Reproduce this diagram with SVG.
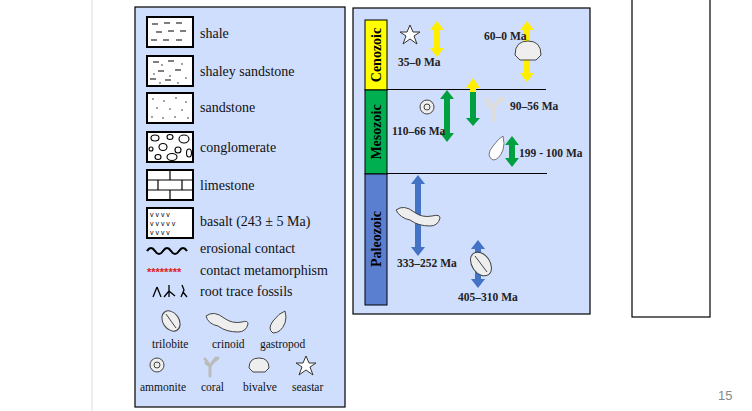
<svg xmlns="http://www.w3.org/2000/svg" width="752" height="411" viewBox="0 0 752 411">
<style>
.t{font-family:"Liberation Serif",serif;font-size:14px;fill:#111}
.s{font-family:"Liberation Serif",serif;font-size:11.5px;fill:#111}
.m{font-family:"Liberation Serif",serif;font-size:11.5px;font-weight:bold;fill:#222}
.box{fill:#fff;stroke:#000;stroke-width:2}
.era{font-family:"Liberation Serif",serif;font-size:14px;font-weight:bold;fill:#000}
.fos{fill:#eee;stroke:#444;stroke-width:1}
</style>
<rect width="752" height="411" fill="#fff"/>
<line x1="92" y1="0" x2="92" y2="411" stroke="#ddd"/>
<g id="empty-box"><rect x="632" y="-2" width="78" height="319" fill="#fff" stroke="#000" stroke-width="1.2"/></g>
<text x="718" y="400" font-family="Liberation Sans,sans-serif" font-size="13" fill="#888">15</text>
<g id="legend">
<rect x="135" y="7" width="210" height="400" fill="#cfdefd" stroke="#000" stroke-width="1.2"/>
<g id="shale"><rect class="box" x="147" y="17" width="46" height="30"/>
<path d="M152 24h6M164 23h6M176 23h6M156 32h6M168 31h6M180 31h6M151 40h6M163 40h6M176 40h6" stroke="#000" stroke-width="1.2"/>
<text class="t" x="200" y="38">shale</text></g>
<g id="shaley"><rect class="box" x="147" y="56" width="46" height="30"/>
<path d="M153 62h6M168 61h6M158 71h6M175 70h6M150 79h6M165 80h6" stroke="#000" stroke-width="1.2"/>
<g fill="#000"><circle cx="162" cy="65" r=".7"/><circle cx="182" cy="64" r=".7"/><circle cx="154" cy="74" r=".7"/><circle cx="170" cy="76" r=".7"/><circle cx="186" cy="78" r=".7"/><circle cx="160" cy="83" r=".7"/><circle cx="178" cy="83" r=".7"/></g>
<text class="t" x="200" y="76">shaley sandstone</text></g>
<g id="sandstone"><rect class="box" x="147" y="93" width="46" height="30"/>
<g fill="#000"><circle cx="153" cy="99" r=".7"/><circle cx="164" cy="101" r=".7"/><circle cx="176" cy="98" r=".7"/><circle cx="186" cy="102" r=".7"/><circle cx="157" cy="108" r=".7"/><circle cx="170" cy="109" r=".7"/><circle cx="182" cy="110" r=".7"/><circle cx="152" cy="117" r=".7"/><circle cx="163" cy="118" r=".7"/><circle cx="175" cy="117" r=".7"/><circle cx="188" cy="118" r=".7"/></g>
<text class="t" x="200" y="112">sandstone</text></g>
<g id="conglomerate"><rect class="box" x="147" y="132" width="46" height="30"/>
<g fill="none" stroke="#000" stroke-width="1.1"><ellipse cx="155" cy="138" rx="4" ry="3"/><ellipse cx="170" cy="137" rx="3" ry="2.5"/><ellipse cx="184" cy="139" rx="5" ry="4"/><ellipse cx="163" cy="147" rx="4" ry="3.5"/><ellipse cx="178" cy="150" rx="3" ry="3"/><ellipse cx="189" cy="153" rx="2.5" ry="4"/><ellipse cx="158" cy="157" rx="3" ry="2.5"/><ellipse cx="172" cy="157" rx="5" ry="3.5"/><ellipse cx="151" cy="149" rx="2" ry="2"/></g>
<text class="t" x="200" y="152">conglomerate</text></g>
<g id="limestone"><rect class="box" x="147" y="170" width="46" height="30"/>
<path d="M147 180h46M147 190h46M170 170v10M158 180v10M182 180v10M170 190v10" stroke="#000" stroke-width="1.2"/>
<text class="t" x="200" y="190">limestone</text></g>
<g id="basalt"><rect class="box" x="147" y="208" width="46" height="30"/>
<text x="150" y="217" font-family="Liberation Sans,sans-serif" font-size="7" fill="#000">v  v  v  v</text>
<text x="150" y="226" font-family="Liberation Sans,sans-serif" font-size="7" fill="#000">v  v  v  v  v</text>
<text x="150" y="235" font-family="Liberation Sans,sans-serif" font-size="7" fill="#000">v  v  v  v</text>
<text class="t" x="200" y="226">basalt (243 ± 5 Ma)</text></g>
<g id="erosional"><path d="M147 251q4-6 8 0t8 0t8 0t8 0t8 0" fill="none" stroke="#000" stroke-width="2.2"/>
<text class="t" x="200" y="253">erosional contact</text></g>
<g id="metamorphism"><text x="147" y="276" font-family="Liberation Sans,sans-serif" font-size="11" font-weight="bold" fill="#e02020">********</text>
<text class="t" x="200" y="275">contact metamorphism</text></g>
<g id="roots"><path d="M157 287l-4 10M157 287l4 10M169 285v6l-5 6M169 291l6 5M169 291v6M182 285l2 5l-3 7M183 292l4 5" fill="none" stroke="#000" stroke-width="1.3"/>
<text class="t" x="200" y="296">root trace fossils</text></g>
<g id="fossils">
<ellipse class="fos" cx="171" cy="321" rx="8" ry="11" transform="rotate(-35 171 321)"/><path d="M166 314l10 14" stroke="#444"/>
<path class="fos" d="M206 316q8-6 18 2q8 6 18 4q6-2 6 2q-2 8-10 8q-12 0-20-6q-10-2-12-10z"/>
<path class="fos" d="M273 333q-6-4 0-12q6-8 12-10q2 6 0 12q-4 10-12 10z"/>
<text class="s" x="152" y="348">trilobite</text><text class="s" x="212" y="348">crinoid</text><text class="s" x="260" y="348">gastropod</text>
<circle class="fos" cx="157" cy="365" r="7"/><circle cx="157" cy="365" r="3" fill="none" stroke="#444"/>
<path d="M210 376v-10l-5-7M210 366l6-8M213 362l5-4M210 366l-4-3" fill="none" stroke="#bbb" stroke-width="3" stroke-linecap="round"/>
<path class="fos" d="M249 368q0-10 10-10q10 0 10 10l-4 4h-12z"/>
<path d="M306 356l3 7h7l-6 4l3 8l-7-5l-7 5l3-8l-6-4h7z" fill="#fff" stroke="#333"/>
<text class="s" x="140" y="391">ammonite</text><text class="s" x="201" y="391">coral</text><text class="s" x="243" y="391">bivalve</text><text class="s" x="292" y="391">seastar</text>
</g>
</g>
<g id="chart">
<rect x="353" y="8" width="237" height="306" fill="#cfdefd" stroke="#000" stroke-width="1.2"/>
<g id="cenozoic"><rect x="365" y="20" width="22" height="70" fill="#ffff00" stroke="#000"/><text class="era" transform="translate(381 55) rotate(-90)" text-anchor="middle">Cenozoic</text></g>
<g id="mesozoic"><rect x="365" y="90" width="22" height="84" fill="#00b050" stroke="#000"/><text class="era" transform="translate(381 132) rotate(-90)" text-anchor="middle">Mesozoic</text></g>
<g id="paleozoic"><rect x="365" y="174" width="22" height="131" fill="#5b7fd0" stroke="#000"/><text class="era" transform="translate(381 239) rotate(-90)" text-anchor="middle">Paleozoic</text></g>
<g id="connectors">
<line x1="387" y1="89.5" x2="546" y2="89.5" stroke="#000"/>
<line x1="387" y1="173.5" x2="547" y2="173.5" stroke="#000"/>
<polygon fill="#ffee00" points="430,30 437,21 444,30 440,30 440,48 444,48 437,57 430,48 434,48 434,30"/>
<polygon fill="#ffee00" points="520,30 527,21 534,30 530,30 530,73 534,73 527,82 520,73 524,73 524,30"/>
<polygon fill="#00a040" points="466,118 473,126 480,118 476,118 476,88 470,88 470,118"/>
<polygon fill="#ffee00" points="466,88 473,78 480,88 476,88 476,92 470,92 470,88"/>
<polygon fill="#00a040" points="440,99 447,90 454,99 450,99 450,133 454,133 447,142 440,133 444,133 444,99"/>
<polygon fill="#00a040" points="505,145 512,136 519,145 515,145 515,158 519,158 512,167 505,158 509,158 509,145"/>
<polygon fill="#4472c4" points="411,184 418,175 425,184 421,184 421,247 425,247 418,256 411,247 415,247 415,184"/>
<polygon fill="#4472c4" points="471,249 478,240 485,249 481,249 481,279 485,279 478,288 471,279 475,279 475,249"/>
</g>
<g id="chart-fossils">
<path d="M410 25l3 7h7l-6 4l3 8l-7-5l-7 5l3-8l-6-4h7z" fill="#fff" stroke="#333"/>
<path class="fos" d="M515 55q0-14 13-14q13 0 13 14l-5 5h-16z"/>
<circle class="fos" cx="427" cy="107" r="7"/><circle cx="427" cy="107" r="3" fill="none" stroke="#444"/>
<path d="M493 120v-12l-6-9M493 108l8-10M497 103l6-4M493 108l-5-4" fill="none" stroke="#ddd" stroke-width="4" stroke-linecap="round"/>
<path d="M493 160q-8-4 0-14q6-8 10-10q2 8 0 14q-4 10-10 10z" fill="#fff" stroke="#555" stroke-width=".8"/>
<path class="fos" d="M396 210q8-6 18 2q8 6 18 4q8-2 8 2q-2 8-10 8q-12 0-20-6q-10-2-14-10z"/>
<ellipse class="fos" cx="481" cy="264" rx="9" ry="13" transform="rotate(-35 481 264)"/><path d="M475 256l12 16" stroke="#444"/>
</g>
<g id="chart-labels">
<text class="m" x="398" y="66">35–0 Ma</text>
<text class="m" x="484" y="40">60–0 Ma</text>
<text class="m" x="510" y="110">90–56 Ma</text>
<text class="m" x="392" y="135">110–66 Ma</text>
<text class="m" x="519" y="157">199 - 100 Ma</text>
<text class="m" x="397" y="267">333–252 Ma</text>
<text class="m" x="458" y="301">405–310 Ma</text>
</g>
</g>
</svg>
